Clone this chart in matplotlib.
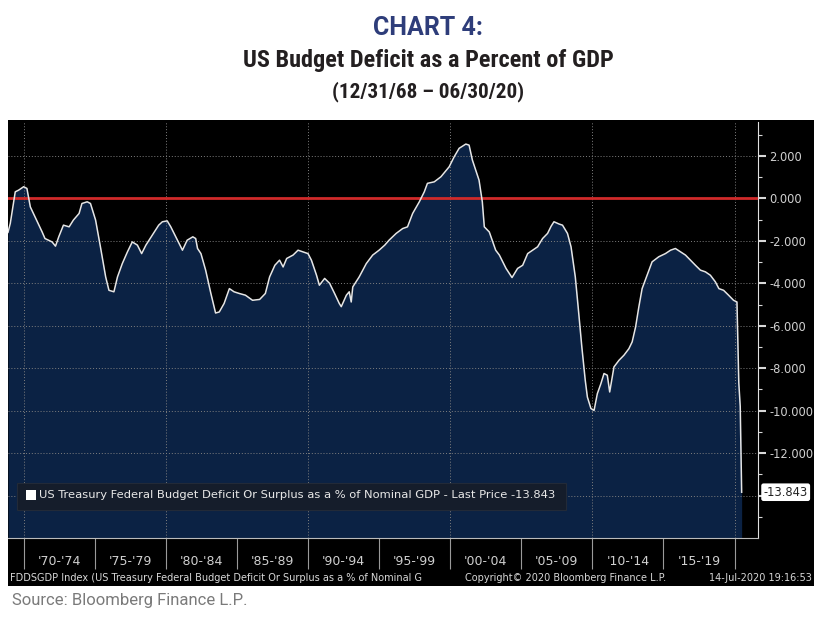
import matplotlib
matplotlib.use("Agg")
import matplotlib.pyplot as plt
from matplotlib.patches import Rectangle
from matplotlib import font_manager as fm

# ---------------- data ----------------
years = [1968.9, 1969.06, 1969.41, 1969.65, 1970.0, 1970.23, 1970.47, 1970.8,
         1971.3, 1971.5, 1972.0, 1972.24, 1972.47, 1972.8, 1973.2, 1973.5,
         1973.9, 1974.1, 1974.47, 1974.7, 1975.06, 1975.4, 1975.77, 1976.0,
         1976.35, 1976.6, 1976.94, 1977.3, 1977.64, 1978.0, 1978.3, 1978.6,
         1979.05, 1979.5, 1979.76, 1980.1, 1980.35, 1980.7, 1981.17, 1981.5,
         1981.9, 1982.1, 1982.23, 1982.47, 1982.8, 1983.17, 1983.5, 1983.76,
         1984.1, 1984.47, 1984.8, 1985.17, 1985.6, 1986.1, 1986.6, 1987.0,
         1987.3, 1987.67, 1988.0, 1988.25, 1988.5, 1988.95, 1989.3, 1989.65,
         1990.0, 1990.24, 1990.6, 1990.8, 1991.17, 1991.52, 1991.87, 1992.2,
         1992.34, 1992.7, 1992.9, 1993.04, 1993.15, 1993.6, 1994.1, 1994.55,
         1995.0, 1995.4, 1995.7, 1996.2, 1996.66, 1997.0, 1997.36, 1997.83,
         1998.18, 1998.4, 1998.88, 1999.35, 1999.93, 2000.28, 2000.63, 2001.1,
         2001.33, 2001.56, 2002.03, 2002.26, 2002.4, 2002.75, 2003.2, 2003.46,
         2003.93, 2004.35, 2004.74, 2005.1, 2005.45, 2005.8, 2006.15, 2006.5,
         2006.85, 2007.1, 2007.3, 2007.67, 2007.9, 2008.25, 2008.5, 2008.8,
         2009.0, 2009.26, 2009.5, 2009.65, 2009.9, 2010.12, 2010.35, 2010.6,
         2010.82, 2011.05, 2011.22, 2011.52, 2011.87, 2012.22, 2012.57, 2012.8,
         2013.04, 2013.27, 2013.5, 2013.85, 2014.2, 2014.67, 2015.14, 2015.5,
         2015.84, 2016.2, 2016.55, 2016.9, 2017.25, 2017.6, 2017.95, 2018.3,
         2018.65, 2018.9, 2019.23, 2019.58, 2019.93, 2020.17, 2020.3, 2020.4,
         2020.5]
deficit_pct = [-1.60, -1.18, 0.31, 0.39, 0.55, 0.47, -0.40, -0.87,
               -1.58, -1.89, -2.05, -2.25, -1.81, -1.26, -1.34, -1.02,
               -0.71, -0.24, -0.16, -0.24, -1.02, -2.28, -3.70, -4.33,
               -4.40, -3.70, -3.07, -2.52, -2.05, -2.20, -2.60, -2.20,
               -1.73, -1.26, -1.10, -1.06, -1.34, -1.81, -2.44, -1.97,
               -1.81, -1.89, -2.36, -2.60, -3.38, -4.48, -5.40, -5.35,
               -4.95, -4.25, -4.40, -4.48, -4.56, -4.80, -4.76, -4.48,
               -3.70, -3.15, -2.91, -3.23, -2.83, -2.67, -2.44, -2.52,
               -2.60, -2.91, -3.62, -4.09, -3.77, -4.00, -4.48, -4.95,
               -5.10, -4.56, -4.40, -4.88, -4.17, -3.70, -3.07, -2.67,
               -2.44, -2.20, -1.97, -1.65, -1.42, -1.34, -0.71, -0.16,
               0.31, 0.71, 0.78, 1.02, 1.49, 1.96, 2.36, 2.56,
               2.51, 1.81, 0.86, -0.16, -1.34, -1.58, -2.44, -2.67,
               -3.30, -3.73, -3.30, -3.15, -2.60, -2.44, -2.28, -1.89,
               -1.65, -1.31, -1.10, -1.21, -1.26, -1.65, -2.28, -3.70,
               -5.11, -7.00, -8.57, -9.36, -9.90, -9.99, -9.20, -8.73,
               -8.25, -8.33, -9.12, -7.94, -7.63, -7.39, -7.08, -6.76,
               -6.06, -5.11, -4.25, -3.62, -2.99, -2.75, -2.60, -2.44,
               -2.36, -2.52, -2.67, -2.91, -3.15, -3.38, -3.46, -3.62,
               -3.93, -4.25, -4.33, -4.56, -4.80, -4.88, -8.70, -9.80,
               -13.843]

y_ticks = [2, 0, -2, -4, -6, -8, -10, -12]
period_bounds = [1970, 1975, 1980, 1985, 1990, 1995, 2000, 2005, 2010, 2015, 2020]
period_labels = ["'70-'74", "'75-'79", "'80-'84", "'85-'89", "'90-'94",
                 "'95-'99", "'00-'04", "'05-'09", "'10-'14", "'15-'19"]
last_price = -13.843

# ---------------- fonts ----------------
names = {f.name for f in fm.fontManager.ttflist}
condensed_fams = [n for n in ["Liberation Sans Narrow", "Roboto Condensed",
                              "Open Sans Condensed", "DejaVu Sans"] if n in names]
cond = condensed_fams + ["DejaVu Sans"]
STRETCH = "condensed"
regular = [n for n in ["Roboto", "Liberation Sans"] if n in names] + ["DejaVu Sans"]
bb = ["DejaVu Sans"]

# ---------------- figure ----------------
W, H = 830, 617
fig = plt.figure(figsize=(W / 100, H / 100), dpi=100)
fig.patch.set_facecolor("white")

def fx(px):
    return px / W

def fy(py):
    return 1 - py / H

title_cx = fx(428)
fig.text(title_cx, fy(28), "CHART 4:", ha="center", va="center", fontsize=18,
         fontweight="bold", color="#2e3d7a", family=regular, fontstretch="normal")
fig.text(title_cx, fy(60), "US Budget Deficit as a Percent of GDP", ha="center",
         va="center", fontsize=17.5, fontweight="bold", color="#231f20",
         family=cond, fontstretch=STRETCH)
fig.text(title_cx, fy(92), "(12/31/68 \u2013 06/30/20)", ha="center", va="center",
         fontsize=15.3, fontweight="bold", color="#231f20", family=cond,
         fontstretch=STRETCH)

# black panel
fig.patches.append(Rectangle((fx(8), fy(586)), fx(814) - fx(8), fy(120) - fy(586),
                             transform=fig.transFigure, facecolor="black",
                             edgecolor="none", zorder=-5))

# axes
ax = fig.add_axes([fx(8), fy(538), fx(758) - fx(8), fy(122) - fy(538)])
ax.set_zorder(1)
ax.set_facecolor("black")
ax.set_xlim(1968.9, 2021.65)
ax.set_ylim(-16, 3.6)

base = -16
ax.fill_between(years, deficit_pct, base, color="#0b2244", zorder=1, linewidth=0)
for g in [2, 0, -2, -4, -6, -8, -10, -12, -14]:
    ax.axhline(g, color="#7f7f7f", lw=0.7, ls=(0, (1, 2)), zorder=2)
for g in [1970, 1980, 1990, 2000, 2010, 2020]:
    ax.axvline(g, color="#7f7f7f", lw=0.7, ls=(0, (1, 2)), zorder=2)
ax.axhline(0, color="#d02a2a", lw=2.0, zorder=3)
ax.plot(years, deficit_pct, color="#e6e6e6", lw=1.1, zorder=4)

for s in ["top", "left"]:
    ax.spines[s].set_visible(False)
ax.spines["right"].set_color("#e0e0e0")
ax.spines["bottom"].set_color("#bbbbbb")

# right y axis
ax.yaxis.tick_right()
ax.set_yticks(y_ticks + [-14])
ax.set_yticklabels(["%.3f" % v if v != 0 else "0.000" for v in y_ticks] + [""],
                   family=bb)
ax.set_yticks([3, 1, -1, -3, -5, -7, -9, -11, -13, -15], minor=True)
ax.tick_params(axis="y", which="major", colors="#d8d8d8", labelcolor="#d0d0d0",
               length=6, width=1.5, labelsize=8.3, pad=2)
ax.tick_params(axis="y", which="minor", colors="#d8d8d8", length=3, width=0.8)

# bottom x axis: separators and period labels
ax.set_xticks(period_bounds)
ax.set_xticklabels([""] * len(period_bounds))
ax.set_xticks([b + 2.5 for b in period_bounds[:-1]], minor=True)
ax.set_xticklabels(period_labels, minor=True, family=bb)
ax.tick_params(axis="x", which="major", colors="#9a9a9a", length=22, width=0.8)
ax.tick_params(axis="x", which="minor", length=0, labelsize=9,
               labelcolor="#d0d0d0", pad=12)

# last price tag
ax.annotate("-13.843", xy=(1.0, last_price), xycoords=("axes fraction", "data"),
            xytext=(4, 0), textcoords="offset points", ha="left", va="center",
            fontsize=8.3, color="#222222", family=bb,
            bbox=dict(boxstyle="round,pad=0.2", fc="white", ec="none"))

# legend box
fig.patches.append(Rectangle((fx(17), fy(510)), fx(566) - fx(17), fy(483) - fy(510),
                             transform=fig.transFigure, facecolor="#151d2b",
                             edgecolor="#222a38", lw=0.8, zorder=5))
fig.patches.append(Rectangle((fx(26), fy(500)), fx(36) - fx(26), fy(490) - fy(500),
                             transform=fig.transFigure, facecolor="white",
                             edgecolor="none", zorder=6))
fig.text(fx(39), fy(495.5),
         "US Treasury Federal Budget Deficit Or Surplus as a % of Nominal GDP - Last Price -13.843",
         ha="left", va="center", fontsize=8.25, color="#e8e8e8", family=bb,
         zorder=7)

# footer inside panel
fig.text(fx(10), fy(578),
         "FDDSGDP Index (US Treasury Federal Budget Deficit Or Surplus as a % of Nominal G",
         ha="left", va="center", fontsize=7.0, color="#d8d8d8", family=bb)
fig.text(fx(465), fy(578), "Copyright\u00a9 2020 Bloomberg Finance L.P.",
         ha="left", va="center", fontsize=7.0, color="#d8d8d8", family=bb)
fig.text(fx(812), fy(578), "14-Jul-2020 19:16:53", ha="right", va="center",
         fontsize=7.0, color="#d8d8d8", family=bb)

# source
fig.text(fx(12), fy(601), "Source: Bloomberg Finance L.P.", ha="left", va="center",
         fontsize=12, color="#7a7a7a", family=regular, fontstretch="normal")

fig.savefig("out.png", dpi=100, facecolor="white")
